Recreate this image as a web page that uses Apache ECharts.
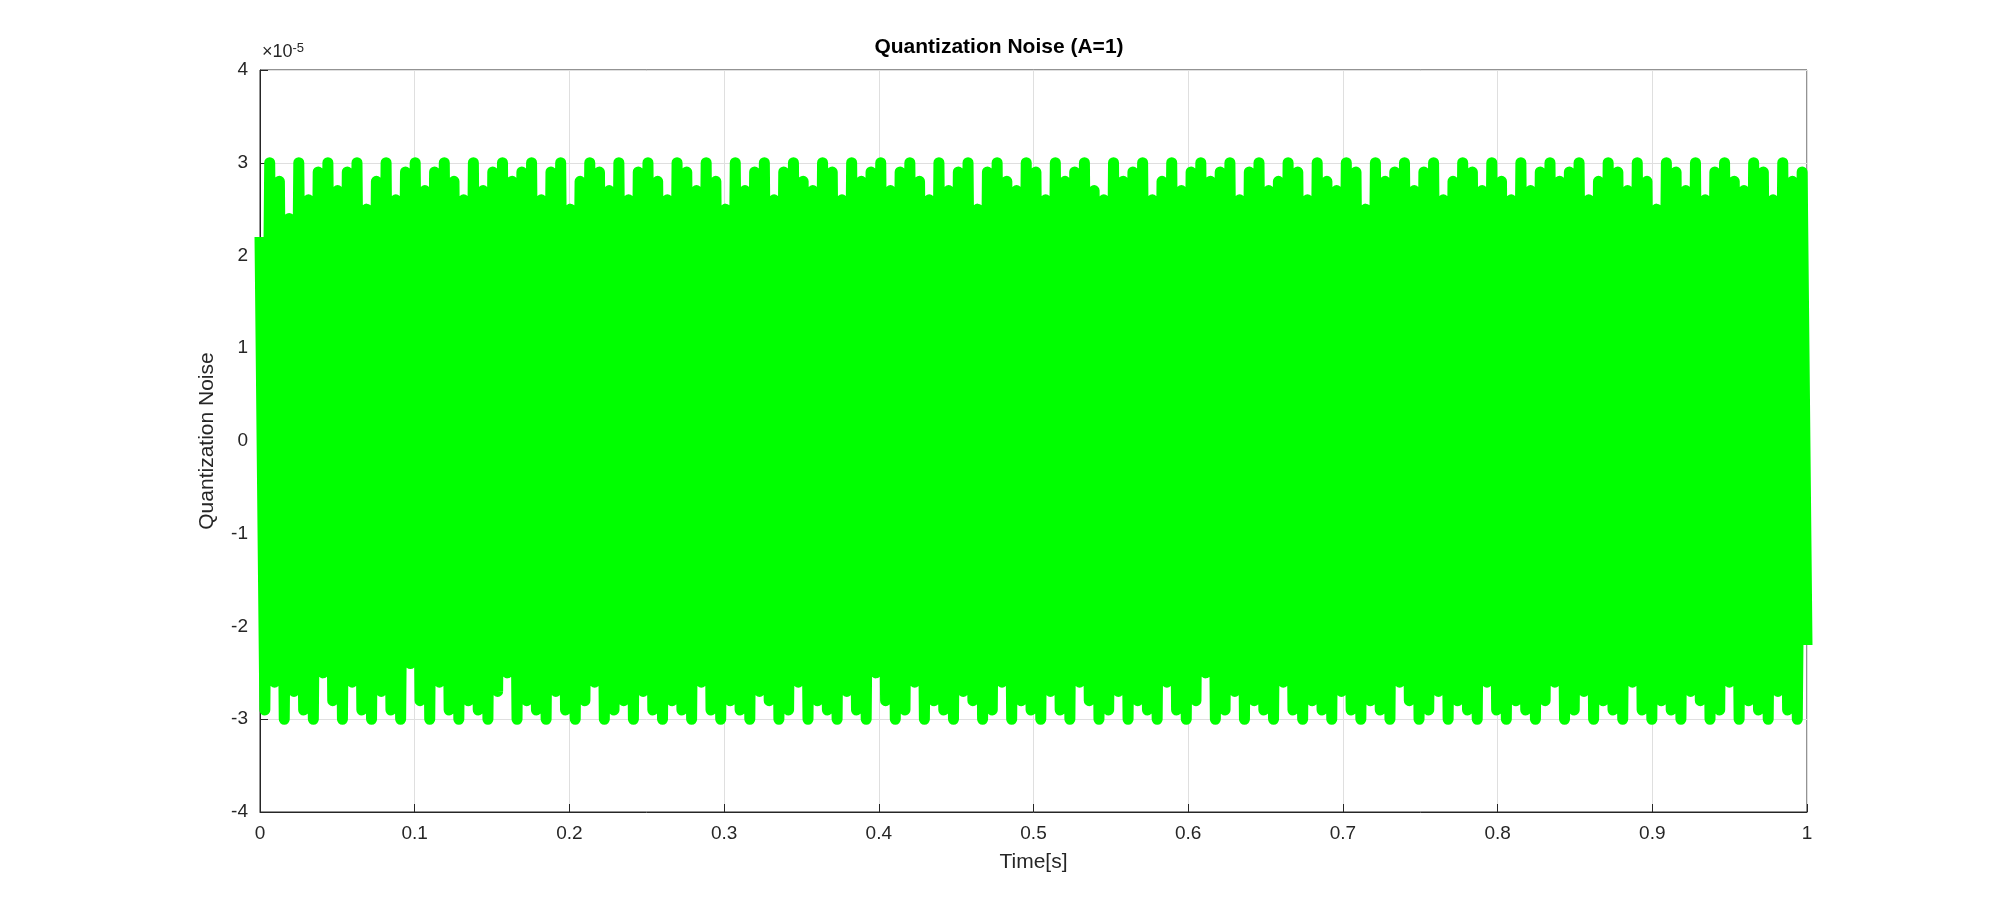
<!DOCTYPE html>
<html><head><meta charset="utf-8">
<script src="https://cdn.jsdelivr.net/npm/echarts@6/dist/echarts.min.js"></script>
<style>html,body{margin:0;padding:0;background:#fff}#c{width:1998px;height:912px}</style>
</head><body><div id="c"></div>
<script>
const title = 'Quantization Noise (A=1)';
const xTicks = [0,0.1,0.2,0.3,0.4,0.5,0.6,0.7,0.8,0.9,1];
const yTicks = [-4,-3,-2,-1,0,1,2,3,4];
// noise samples (units of 1e-5), read as the envelope/texture of the trace
const noise = [
 2.2,-2.9,3.0,-2.6,2.8,-3.0,2.4,-2.7,3.0,-2.9,2.6,-3.0,2.9,-2.5,3.0,-2.8,2.7,-3.0,2.9,-2.6,
 3.0,-2.9,2.5,-3.0,2.8,-2.7,3.0,-2.9,2.6,-3.0,2.9,-2.4,3.0,-2.8,2.7,-3.0,2.9,-2.6,3.0,-2.9,
 2.8,-3.0,2.6,-2.8,3.0,-2.9,2.7,-3.0,2.9,-2.7,3.0,-2.5,2.8,-3.0,2.9,-2.8,3.0,-2.9,2.6,-3.0,
 2.9,-2.7,3.0,-2.9,2.5,-3.0,2.8,-2.8,3.0,-2.6,2.9,-3.0,2.7,-2.9,3.0,-2.8,2.6,-3.0,2.9,-2.7,
 3.0,-2.9,2.8,-3.0,2.6,-2.8,3.0,-2.9,2.9,-3.0,2.7,-2.6,3.0,-2.9,2.8,-3.0,2.5,-2.8,3.0,-2.9,
 2.7,-3.0,2.9,-2.7,3.0,-2.8,2.6,-3.0,2.9,-2.9,3.0,-2.6,2.8,-3.0,2.7,-2.8,3.0,-2.9,2.9,-3.0,
 2.6,-2.7,3.0,-2.9,2.8,-3.0,2.9,-2.5,3.0,-2.8,2.7,-3.0,2.9,-2.9,3.0,-2.6,2.8,-3.0,2.6,-2.8,
 3.0,-2.9,2.7,-3.0,2.9,-2.7,3.0,-2.8,2.5,-3.0,2.9,-2.9,3.0,-2.6,2.8,-3.0,2.7,-2.8,3.0,-2.9,
 2.9,-3.0,2.6,-2.7,3.0,-2.9,2.8,-3.0,2.9,-2.6,3.0,-2.8,2.7,-3.0,2.6,-2.9,3.0,-2.7,2.8,-3.0,
 2.9,-2.8,3.0,-2.9,2.6,-3.0,2.8,-2.6,3.0,-2.9,2.7,-3.0,2.9,-2.8,3.0,-2.5,2.8,-3.0,2.9,-2.9,
 3.0,-2.7,2.6,-3.0,2.9,-2.8,3.0,-2.9,2.7,-3.0,2.8,-2.6,3.0,-2.9,2.9,-3.0,2.6,-2.8,3.0,-2.9,
 2.8,-3.0,2.7,-2.7,3.0,-2.9,2.9,-3.0,2.5,-2.8,3.0,-2.9,2.8,-3.0,2.9,-2.6,3.0,-2.8,2.7,-3.0,
 2.9,-2.9,3.0,-2.7,2.6,-3.0,2.8,-2.8,3.0,-2.9,2.9,-3.0,2.7,-2.6,3.0,-2.9,2.8,-3.0,2.6,-2.8,
 3.0,-2.9,2.7,-3.0,2.9,-2.8,3.0,-2.6,2.8,-3.0,2.9,-2.9,3.0,-2.7,2.6,-3.0,2.8,-2.8,3.0,-2.9,
 2.9,-3.0,2.7,-2.6,3.0,-2.9,2.8,-3.0,2.5,-2.8,3.0,-2.9,2.9,-3.0,2.7,-2.7,3.0,-2.8,2.6,-3.0,
 2.9,-2.9,3.0,-2.6,2.8,-3.0,2.7,-2.8,3.0,-2.9,2.9,-3.0,2.6,-2.7,3.0,-2.9,2.8,-3.0,2.9,-2.2
];
const data = noise.map((v,i)=>[i/(noise.length-1), v]);
const font = 'Liberation Sans';
const chart = echarts.init(document.getElementById('c'));
chart.setOption({
  animation:false,
  title:{text:title,left:'center',top:32,textStyle:{fontFamily:font,fontSize:21,fontWeight:'bold',color:'#000'}},
  grid:{left:260,right:191,top:70,bottom:100,show:true,borderColor:'#262626',borderWidth:1,backgroundColor:'#fff'},
  xAxis:{type:'value',min:0,max:1,interval:0.1,name:'Time[s]',nameLocation:'middle',nameGap:40,
    nameTextStyle:{fontFamily:font,fontSize:21,color:'#262626'},
    axisLine:{onZero:false,lineStyle:{color:'#262626'}},axisTick:{inside:true,length:8,lineStyle:{color:'#262626'}},
    axisLabel:{fontFamily:font,fontSize:19,color:'#262626',margin:12,formatter:v=>String(+v.toFixed(1))},
    splitLine:{show:true,lineStyle:{color:'#dfdfdf'}}},
  yAxis:{type:'value',min:-4,max:4,interval:1,name:'Quantization Noise',nameLocation:'middle',nameGap:42,
    nameTextStyle:{fontFamily:font,fontSize:21,color:'#262626'},
    axisLine:{onZero:false,lineStyle:{color:'#262626'}},axisTick:{inside:true,length:8,lineStyle:{color:'#262626'}},
    axisLabel:{fontFamily:font,fontSize:19,color:'#262626',margin:12},
    splitLine:{show:true,lineStyle:{color:'#dfdfdf'}}},
  graphic:[{type:'text',left:262,top:42,style:{
    text:'×10{s|-5}',rich:{s:{fontSize:13,verticalAlign:'top',fontFamily:font,fill:'#262626',padding:[0,0,8,0]}},
    fontFamily:font,fontSize:18,fill:'#262626'}}],
  series:[{type:'line',data:data,showSymbol:false,sampling:null,
    lineStyle:{color:'#00ff00',width:11,join:'round',cap:'butt'},z:3}]
});
</script></body></html>
